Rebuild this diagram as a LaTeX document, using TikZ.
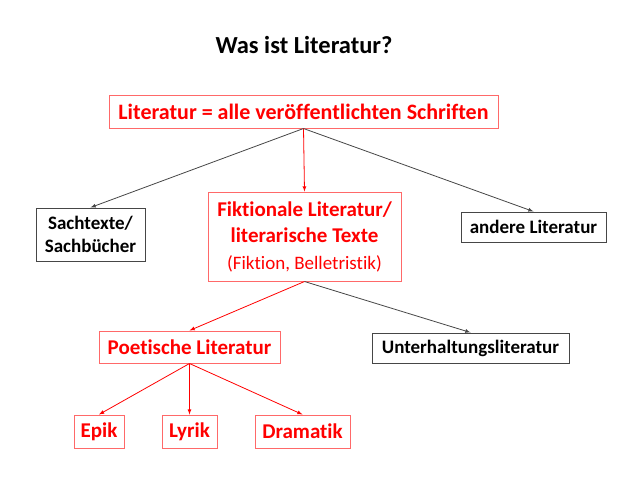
\documentclass[tikz,border=0pt]{standalone}
\usepackage{fontspec}
\setmainfont[Ligatures=NoCommon]{Carlito}
\usetikzlibrary{arrows}
\definecolor{litred}{RGB}{255,0,0}
\definecolor{litframe}{RGB}{255,105,105}
\definecolor{litgray}{RGB}{70,70,70}
\tikzset{
  redbox/.style={draw=litframe, line width=1pt, text=litred, inner sep=0pt,
    font=\bfseries\fontsize{21}{26.5}\selectfont, align=center},
  blackbox/.style={draw=litgray, line width=1pt, text=black, inner sep=0pt,
    font=\bfseries\fontsize{19}{23}\selectfont, align=center},
  redline/.style={->, >=latex, draw=litred, line width=0.8pt},
  blackline/.style={->, >=latex, draw=litgray, line width=0.8pt}
}

\begin{document}
\begin{tikzpicture}[x=1pt, y=-1pt]
  \useasboundingbox (0,0) rectangle (640,480);
  \node (Title) at (304, 45) {\bfseries\fontsize{24.5}{28}\selectfont Was ist Literatur?};
  \node [redbox, font=\bfseries\fontsize{22}{26}\selectfont, minimum width=389pt, minimum height=33pt] (Lit) at (303.5, 111.5) {Literatur = alle veröffentlichten Schriften};
  \node [blackbox, minimum width=109pt, minimum height=53pt] (Sach) at (90.5, 234.5) {Sachtexte/\\Sachbücher};
  \node [redbox, minimum width=193pt, minimum height=89pt] (Fikt) at (304.5, 236.5) {Fiktionale Literatur/\\literarische Texte\\{\mdseries\fontsize{19}{26.5}\selectfont (Fiktion, Belletristik)}};
  \node [blackbox, minimum width=145pt, minimum height=30pt] (Andere) at (533.5, 227) {andere Literatur};
  \node [redbox, minimum width=181pt, minimum height=32pt] (Poet) at (189.5, 347) {Poetische Literatur};
  \node [blackbox, minimum width=197pt, minimum height=30pt] (Unter) at (470.5, 348) {Unterhaltungsliteratur};
  \node [redbox, minimum width=50pt, minimum height=33pt] (Epik) at (99, 431.5) {Epik};
  \node [redbox, minimum width=55pt, minimum height=33pt] (Lyrik) at (189.5, 431.5) {Lyrik};
  \node [redbox, minimum width=95pt, minimum height=33pt] (Drama) at (302.5, 431.5) {Dramatik};
  \draw [blackline] (Lit.south) -- (Sach.north);
  \draw [redline] (Lit.south) -- (Fikt.north);
  \draw [blackline] (Lit.south) -- (Andere.north);
  \draw [redline] (Fikt.south) -- (Poet.north);
  \draw [blackline] (Fikt.south) -- (Unter.north);
  \draw [redline] (Poet.south) -- (Epik.north);
  \draw [redline] (Poet.south) -- (Lyrik.north);
  \draw [redline] (Poet.south) -- (Drama.north);
\end{tikzpicture}
\end{document}
